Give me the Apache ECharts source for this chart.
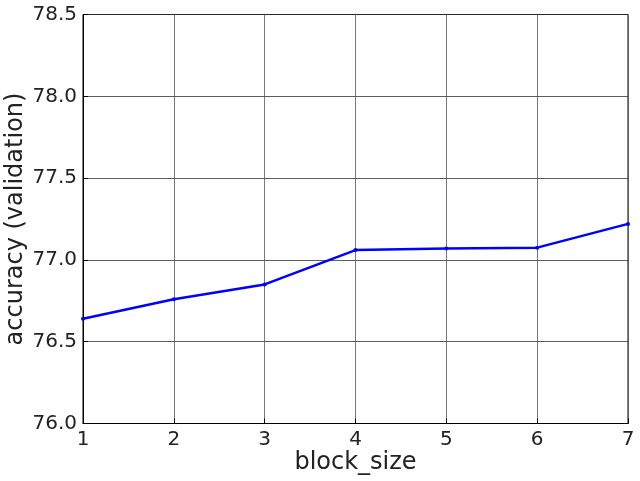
<!DOCTYPE html>
<html><head><meta charset="utf-8">
<script src="https://cdn.jsdelivr.net/npm/echarts@6/dist/echarts.min.js"></script>
<style>html,body{margin:0;padding:0;background:#fff}#c{width:640px;height:481px}</style>
</head><body><div id="c"></div>
<script>
const blockSizes = [1, 2, 3, 4, 5, 6, 7];
const accuracy = [76.64, 76.76, 76.85, 77.06, 77.07, 77.075, 77.22];
const yTicks = [76.0, 76.5, 77.0, 77.5, 78.0, 78.5];

const chart = echarts.init(document.getElementById('c'), null, {renderer: 'canvas'});
const font = 'DejaVu Sans';
chart.setOption({
  animation: false,
  grid: {left: 83, right: 12, top: 14.5, bottom: 57.5, show: true, borderColor: '#000', borderWidth: 1,
         containLabel: false, outerBoundsMode: 'none'},
  xAxis: {
    type: 'value', min: 1, max: 7, interval: 1,
    name: 'block_size', nameLocation: 'middle', nameGap: 27, nameMoveOverlap: false,
    nameTextStyle: {fontFamily: font, fontSize: 24, color: '#222'},
    axisLine: {show: true, lineStyle: {color: '#000'}},
    axisTick: {show: true, inside: true, length: 5, lineStyle: {color: '#000'}},
    axisLabel: {fontFamily: font, fontSize: 20, color: '#222', margin: 6},
    splitLine: {show: true, lineStyle: {color: '#555', width: 0.8}}
  },
  yAxis: {
    type: 'value', min: yTicks[0], max: yTicks[yTicks.length - 1], interval: 0.5,
    name: 'accuracy (validation)', nameLocation: 'middle', nameGap: 55, nameMoveOverlap: false,
    nameTextStyle: {fontFamily: font, fontSize: 24, color: '#222'},
    axisLine: {show: true, lineStyle: {color: '#000'}},
    axisTick: {show: true, inside: true, length: 5, lineStyle: {color: '#000'}},
    axisLabel: {fontFamily: font, fontSize: 20, color: '#222', margin: 6, formatter: v => v.toFixed(1)},
    splitLine: {show: true, lineStyle: {color: '#333', width: 0.8}}
  },
  series: [{
    type: 'line',
    data: blockSizes.map((x, i) => [x, accuracy[i]]),
    lineStyle: {color: '#0000ff', width: 2.5},
    itemStyle: {color: '#0000ff'},
    symbol: 'circle', symbolSize: 4, showSymbol: true,
    clip: false
  }]
});
</script></body></html>
